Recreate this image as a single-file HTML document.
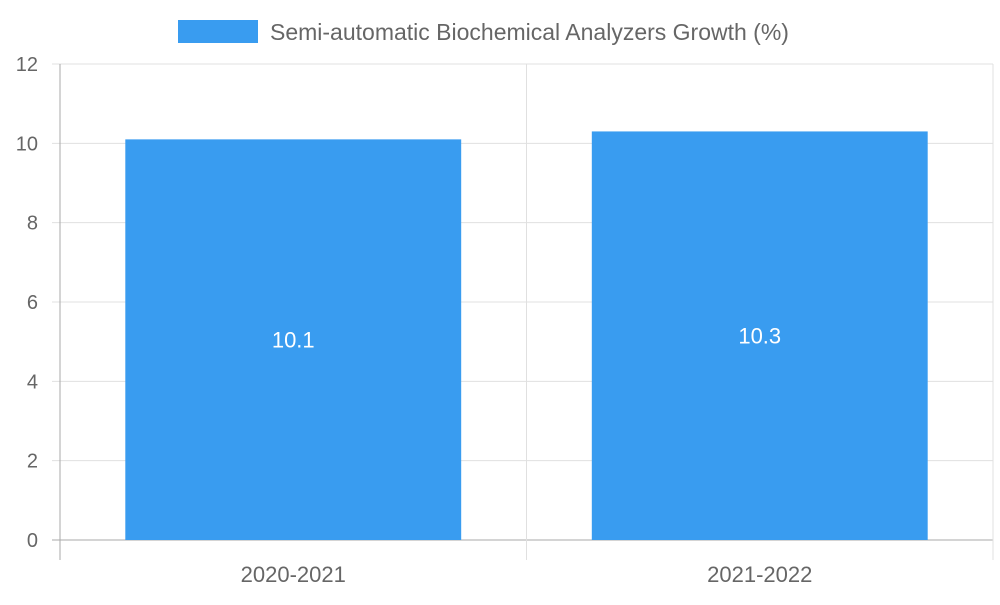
<!DOCTYPE html>
<html><head><meta charset="utf-8"><style>
body{margin:0;background:#fff;}
svg text{font-family:"Liberation Sans",sans-serif;}
</style></head><body>
<svg id="c" width="1000" height="600">
<g>
<rect x="178" y="20" width="80" height="23" fill="#399cf0"/>
<text x="270" y="40" font-size="23" fill="#666">Semi-automatic Biochemical Analyzers Growth (%)</text>
</g>
<g id="grid"></g><g id="bars"></g><g id="axes"></g>
</svg>
<script>
const categories=["2020-2021","2021-2022"];
const values=[10.1,10.3];
const yTicks=[0,2,4,6,8,10,12];
const X0=60,X1=993,Y0=540,Y1=64,YMAX=12;
const ns="http://www.w3.org/2000/svg";
const y=v=>Y0-(v/YMAX)*(Y0-Y1);
const bw=(X1-X0)/categories.length;
const x=i=>X0+bw*i;
function mk(p,t,a){const e=document.createElementNS(ns,t);for(const k in a)e.setAttribute(k,a[k]);document.getElementById(p).appendChild(e);return e;}
yTicks.forEach(t=>{
 const l=mk('grid','line',{x1:52,x2:X1,y1:y(t),y2:y(t),stroke:t===0?'#aaa':'#e0e0e0','stroke-width':1});
 
 
 const tx=mk('axes','text',{x:38,y:y(t)+7,'text-anchor':'end','font-size':20,fill:'#666'});
 tx.textContent=t;
 
 
});
for(let i=0;i<=categories.length;i++){
 const l=mk('grid','line',{x1:x(i),x2:x(i),y1:Y1,y2:560,stroke:i===0?'#aaa':'#e0e0e0','stroke-width':1});
 
 
}
categories.forEach((c,i)=>{
 const bx=x(i)+bw*0.14,w=bw*0.72;
 const r=mk('bars','rect',{x:bx,y:y(values[i]),width:w,height:Y0-y(values[i]),fill:'#399cf0'});
 
 
 const t=mk('bars','text',{x:bx+w/2,y:(y(values[i])+Y0)/2+8,'text-anchor':'middle','font-size':22,fill:'#fff'});
 t.textContent=values[i];
 
 
 const xl=mk('axes','text',{x:x(i)+bw/2,y:582,'text-anchor':'middle','font-size':22,fill:'#666'});
 xl.textContent=c;
 
 
});
</script>
</body></html>
